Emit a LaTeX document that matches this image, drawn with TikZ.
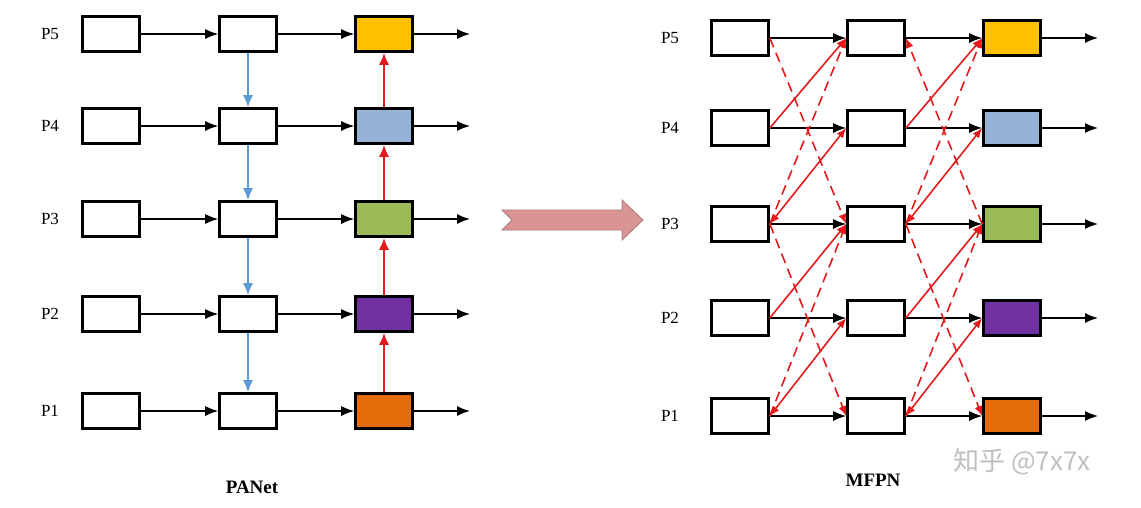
\documentclass[tikz,border=0pt]{standalone}
\usepackage{fontspec}
\setmainfont{Liberation Serif}
\newfontfamily\cjk{Noto Sans CJK SC}
\usetikzlibrary{arrows.meta}
\definecolor{cy}{HTML}{FFC000}
\definecolor{cb}{HTML}{95B3D7}
\definecolor{cg}{HTML}{9BBB59}
\definecolor{cp}{HTML}{7030A0}
\definecolor{co}{HTML}{E46C0A}
\definecolor{bigarr}{HTML}{D99594}
\definecolor{lblue}{HTML}{5B9BD5}
\definecolor{rd}{HTML}{E31A1C}
\tikzset{
  box/.style={draw, line width=2.6pt, minimum width=57pt, minimum height=35pt, inner sep=0pt},
  lab/.style={font=\fontsize{17}{17}\selectfont},
  blk/.style={-{Latex[length=13pt,width=10pt]}, line width=1.4pt},
  blu/.style={-{Latex[length=12pt,width=10pt]}, line width=1.5pt, lblue},
  red/.style={-{Latex[length=12pt,width=10pt]}, line width=1.8pt, rd},
  sred/.style={-{Latex[length=10pt,width=8pt]}, line width=1.6pt, rd},
  dred/.style={sred, dash pattern=on 10pt off 6pt},
  both/.style={{Latex[length=10pt,width=8pt]}-{Latex[length=10pt,width=8pt]}},
}
\begin{document}
\begin{tikzpicture}[x=1pt,y=-1pt]
\useasboundingbox (0,0) rectangle (1141,507);
% PANet
\foreach \i/\y/\c in {5/34/cy,4/126/cb,3/219/cg,2/314/cp,1/411/co}{
  \node[lab] (pl\i) at (50,\y) {P\i};
  \node[box] (a\i) at (111,\y) {};
  \node[box] (b\i) at (248,\y) {};
  \node[box, fill=\c] (c\i) at (384,\y) {};
  \coordinate (o\i) at (470,\y);
  \draw[blk] (a\i) -- (b\i);
  \draw[blk] (b\i) -- (c\i);
  \draw[blk] (c\i) -- (o\i);
}
\foreach \i/\j in {5/4,4/3,3/2,2/1}{
  \draw[blu] (b\i) -- (b\j);
  \draw[red] (c\j) -- (c\i);
}
\node[font=\bfseries\fontsize{19}{19}\selectfont] (t1) at (252,487) {PANet};
% big arrow
\draw[bigarr!80!black, fill=bigarr, line width=0.8pt]
  (502,210) -- (622,210) -- (622,200) -- (643,220) -- (622,240) -- (622,230) -- (502,230) -- (512,220) -- cycle;
% MFPN
\foreach \i/\y/\c in {5/38/cy,4/128/cb,3/224/cg,2/318/cp,1/416/co}{
  \node[lab] (ql\i) at (670,\y) {P\i};
  \node[box] (d\i) at (740,\y) {};
  \node[box] (e\i) at (876,\y) {};
  \node[box, fill=\c] (f\i) at (1012,\y) {};
  \coordinate (q\i) at (1098,\y);
  \draw[blk] (d\i) -- (e\i);
  \draw[blk] (e\i) -- (f\i);
  \draw[blk] (f\i) -- (q\i);
}
% left gap
\draw[sred] (d4.east) -- (e5.west);
\draw[sred, both] (d3.east) -- (e4.west);
\draw[sred] (d2.east) -- (e3.west);
\draw[sred, both] (d1.east) -- (e2.west);
\draw[dred] (d5.east) -- (e3.west);
\draw[dred] (d3.east) -- (e5.west);
\draw[dred] (d3.east) -- (e1.west);
\draw[dred] (d1.east) -- (e3.west);
% right gap
\draw[sred] (e4.east) -- (f5.west);
\draw[sred, both] (e3.east) -- (f4.west);
\draw[sred] (e2.east) -- (f3.west);
\draw[sred, both] (e1.east) -- (f2.west);
\draw[dred] (f3.west) -- (e5.east);
\draw[dred] (e3.east) -- (f5.west);
\draw[dred] (e3.east) -- (f1.west);
\draw[dred] (e1.east) -- (f3.west);
\node[font=\bfseries\fontsize{19}{19}\selectfont] (t2) at (873,480) {MFPN};
\node[text=black!25, font=\cjk\fontsize{26}{26}\selectfont] (wm) at (1022,462) {知乎 @7x7x};
\end{tikzpicture}
\end{document}
